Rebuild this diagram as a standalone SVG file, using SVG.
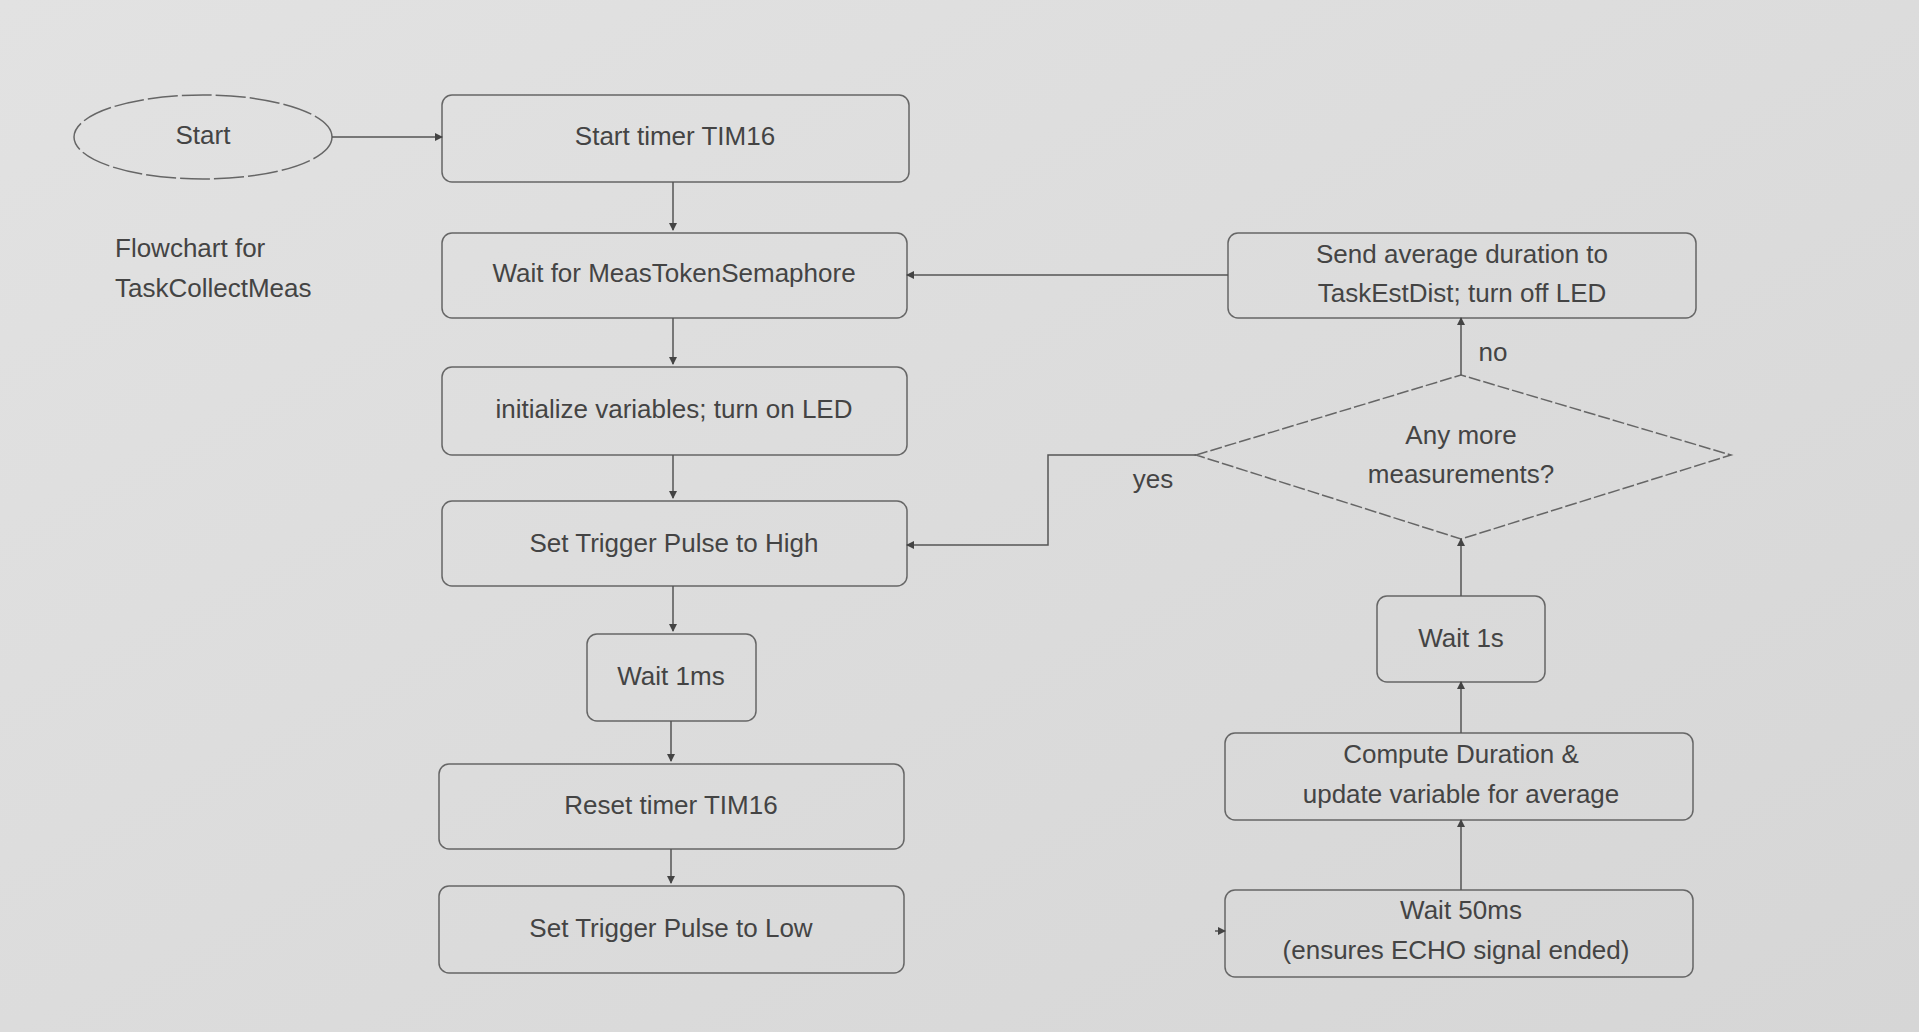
<svg xmlns="http://www.w3.org/2000/svg" width="1919" height="1032" viewBox="0 0 1919 1032">
<defs>
<linearGradient id="bg" x1="0" y1="0" x2="1" y2="1"><stop offset="0" stop-color="#e2e2e2"/><stop offset="1" stop-color="#d6d6d6"/></linearGradient>
<marker id="a" markerWidth="8" markerHeight="8" refX="7" refY="4" orient="auto" markerUnits="userSpaceOnUse"><path d="M0,0 L8,4 L0,8 z" fill="#444"/></marker>
</defs>
<style>
.b{fill:none;stroke:#666;stroke-width:1.5}
.t{font-family:"Liberation Sans",Arial,sans-serif;font-size:26px;fill:#444;text-anchor:middle;dominant-baseline:middle}
.c{fill:none;stroke:#555;stroke-width:1.5;marker-end:url(#a)}
</style>
<rect width="1919" height="1032" fill="url(#bg)"/>
<g id="start"><ellipse class="b" cx="203" cy="137" rx="129" ry="42" stroke-dasharray="30 4"/><text class="t" x="203" y="137">Start</text></g>
<g id="title"><text class="t" x="115" y="250" style="text-anchor:start">Flowchart for</text><text class="t" x="115" y="290" style="text-anchor:start">TaskCollectMeas</text></g>
<g id="n1"><rect class="b" x="442" y="95" width="467" height="87" rx="10"/><text class="t" x="675" y="138">Start timer TIM16</text></g>
<g id="n2"><rect class="b" x="442" y="233" width="465" height="85" rx="10"/><text class="t" x="674" y="275">Wait for MeasTokenSemaphore</text></g>
<g id="n3"><rect class="b" x="442" y="367" width="465" height="88" rx="10"/><text class="t" x="674" y="411">initialize variables; turn on LED</text></g>
<g id="n4"><rect class="b" x="442" y="501" width="465" height="85" rx="10"/><text class="t" x="674" y="545">Set Trigger Pulse to High</text></g>
<g id="n5"><rect class="b" x="587" y="634" width="169" height="87" rx="10"/><text class="t" x="671" y="678">Wait 1ms</text></g>
<g id="n6"><rect class="b" x="439" y="764" width="465" height="85" rx="10"/><text class="t" x="671" y="807">Reset timer TIM16</text></g>
<g id="n7"><rect class="b" x="439" y="886" width="465" height="87" rx="10"/><text class="t" x="671" y="930">Set Trigger Pulse to Low</text></g>
<g id="n8"><rect class="b" x="1228" y="233" width="468" height="85" rx="10"/><text class="t" x="1462" y="256">Send average duration to</text><text class="t" x="1462" y="295">TaskEstDist; turn off LED</text></g>
<g id="d1"><polygon class="b" points="1196,455 1461,375 1731,455 1461,539" stroke-dasharray="12 3"/><text class="t" x="1461" y="437">Any more</text><text class="t" x="1461" y="476">measurements?</text></g>
<g id="n9"><rect class="b" x="1377" y="596" width="168" height="86" rx="10"/><text class="t" x="1461" y="640">Wait 1s</text></g>
<g id="n10"><rect class="b" x="1225" y="733" width="468" height="87" rx="10"/><text class="t" x="1461" y="756">Compute Duration &amp;</text><text class="t" x="1461" y="796">update variable for average</text></g>
<g id="n11"><rect class="b" x="1225" y="890" width="468" height="87" rx="10"/><text class="t" x="1461" y="912">Wait 50ms</text><text class="t" x="1456" y="952">(ensures ECHO signal ended)</text></g>
<g id="connectors">
<path class="c" d="M332,137 H442"/>
<path class="c" d="M673,182 V230"/>
<path class="c" d="M673,318 V364"/>
<path class="c" d="M673,455 V498"/>
<path class="c" d="M673,586 V631"/>
<path class="c" d="M671,721 V761"/>
<path class="c" d="M671,849 V883"/>
<path class="c" d="M1228,275 H907"/>
<path class="c" d="M1196,455 H1048 V545 H907"/>
<path class="c" d="M1461,375 V318"/>
<path class="c" d="M1461,596 V539"/>
<path class="c" d="M1461,733 V682"/>
<path class="c" d="M1461,890 V820"/>
<path class="c" d="M1215,931 H1225"/>
<text class="t" x="1153" y="481">yes</text>
<text class="t" x="1493" y="354">no</text>
</g>
</svg>
